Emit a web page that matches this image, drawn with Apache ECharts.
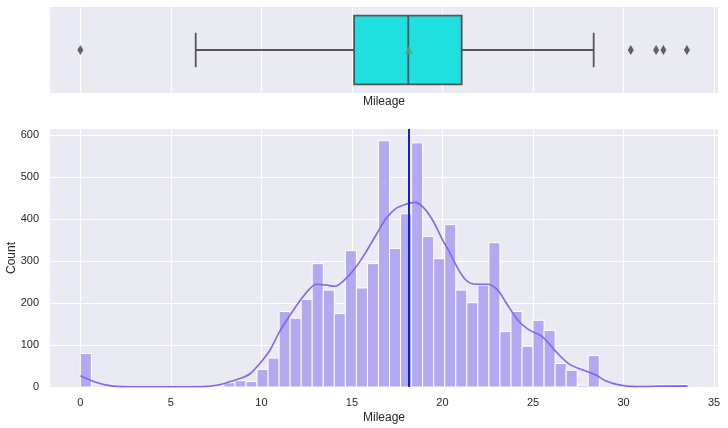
<!DOCTYPE html>
<html><head><meta charset="utf-8">
<script src="https://cdn.jsdelivr.net/npm/echarts@6/dist/echarts.min.js"></script>
<style>html,body{margin:0;padding:0;background:#fff}#c{width:728px;height:428px}</style>
</head><body><div id="c"></div>
<script>
// ---- data ----
const binStart = 0;
const binEnd = 33.54;
const binCounts = [80, 0, 0, 0, 0, 0, 0, 0, 0, 0, 0, 0, 0, 10, 15, 13, 42, 69, 180, 164,
  209, 294, 231, 175, 325, 236, 294, 587, 330, 413, 582, 359, 306, 387, 231, 201, 243, 344, 132, 180,
  97, 159, 135, 56, 40, 4, 75, 0, 0, 1, 0, 0, 5, 5, 6];
const kdeX = [0, 0.3, 0.73, 1.38, 2.2, 3.5, 5, 6.8, 7.5, 8.0, 8.8, 9.36, 9.91, 10.46, 11.0, 11.56, 12.1, 12.66, 13.03, 13.58,
  14.04, 14.68, 15.24, 15.79, 16.34, 16.89, 17.44, 17.99, 18.45, 18.9, 19.45, 20.0, 20.37, 20.74, 21.29, 21.84, 22.48, 23.03, 23.58, 24.23,
  24.78, 25.51, 26.25, 26.98, 27.72, 28.45, 29.0, 29.74, 30.65, 31.5, 32.5, 33.54];
const kdeY = [27, 21, 13, 5, 1, 0.5, 0.5, 1, 4, 9, 20, 31, 56, 87, 132, 170, 204, 234, 245, 243,
  240, 259, 287, 323, 363, 402, 426, 436, 440, 430, 398, 351, 323, 291, 255, 245, 245, 232, 196, 156,
  136, 120, 85, 55, 41, 29, 15, 5, 1, 1.5, 2, 2];
const boxStats = [6.37, 15.12, 18.11, 21.06, 28.35]; // low whisker, Q1, median, Q3, high whisker
const boxMean = 18.14;
const outliers = [0, 30.4, 31.8, 32.2, 33.5];
const centerLine = 18.11;
const xTickStep = 5;
const yTickStep = 100;
const xLabel = 'Mileage';
const yLabel = 'Count';

// ---- build ----
const nBins = binCounts.length;
const bw = (binEnd - binStart) / nBins;
const histData = binCounts.map((c, i) => [binStart + i * bw, binStart + (i + 1) * bw, c]);
const kdeData = kdeX.map((x, i) => [x, kdeY[i]]);
const xMin = -1.677, xMax = 35.217, yMax = 615;
const FONT = "'Liberation Sans', Arial, sans-serif";
const TXT = '#262626';
const BG = '#EAEAF2';
const fmtX = v => Math.abs(v / xTickStep - Math.round(v / xTickStep)) < 1e-6 ? String(Math.round(v)) : '';

const chart = echarts.init(document.getElementById('c'), null, {renderer: 'canvas'});
const splitLine = {show: true, showMinLine: false, showMaxLine: false, lineStyle: {color: '#ffffff', width: 1}};

chart.setOption({
  animation: false,
  backgroundColor: '#ffffff',
  textStyle: {fontFamily: FONT},
  grid: [
    {left: 50, right: 10, top: 7, height: 86, show: true, backgroundColor: BG, borderWidth: 0,
     containLabel: false, outerBoundsMode: 'none'},
    {left: 50, right: 10, top: 129, bottom: 41, show: true, backgroundColor: BG, borderWidth: 0,
     containLabel: false, outerBoundsMode: 'none'}
  ],
  xAxis: [
    {gridIndex: 0, type: 'value', min: xMin, max: xMax, minInterval: xTickStep, maxInterval: xTickStep,
     axisLine: {show: false}, axisTick: {show: false}, axisLabel: {show: false}, splitLine,
     name: xLabel, nameLocation: 'middle', nameGap: 3, nameMoveOverlap: false,
     nameTextStyle: {fontSize: 12, color: TXT, fontFamily: FONT}},
    {gridIndex: 1, type: 'value', min: xMin, max: xMax, minInterval: xTickStep, maxInterval: xTickStep,
     axisLine: {show: false}, axisTick: {show: false},
     axisLabel: {show: true, formatter: fmtX, fontSize: 11, color: TXT, margin: 10, fontFamily: FONT},
     splitLine,
     name: xLabel, nameLocation: 'middle', nameGap: 25, nameMoveOverlap: false,
     nameTextStyle: {fontSize: 12, color: TXT, fontFamily: FONT}}
  ],
  yAxis: [
    {gridIndex: 0, type: 'value', min: -0.5, max: 0.5, show: false},
    {gridIndex: 1, type: 'value', min: 0, max: yMax, interval: yTickStep,
     axisLine: {show: false}, axisTick: {show: false},
     axisLabel: {fontSize: 11, color: TXT, margin: 11, fontFamily: FONT},
     splitLine,
     name: yLabel, nameLocation: 'middle', nameGap: 32, nameMoveOverlap: false,
     nameTextStyle: {fontSize: 12, color: TXT, fontFamily: FONT}}
  ],
  series: [
    {
      type: 'custom', xAxisIndex: 0, yAxisIndex: 0, silent: true,
      data: [boxStats],
      renderItem: function (params, api) {
        const lo = api.value(0), q1 = api.value(1), med = api.value(2), q3 = api.value(3), hi = api.value(4);
        const stroke = {stroke: '#555555', lineWidth: 1.8};
        const P = (x, y) => api.coord([x, y]);
        const a = P(q1, 0.4), b = P(q3, -0.4);
        const children = [];
        const line = (x1, y1, x2, y2) => {
          const p1 = P(x1, y1), p2 = P(x2, y2);
          children.push({type: 'line', shape: {x1: p1[0], y1: p1[1], x2: p2[0], y2: p2[1]}, style: Object.assign({}, stroke)});
        };
        line(lo, 0, q1, 0);
        line(q3, 0, hi, 0);
        line(lo, -0.2, lo, 0.2);
        line(hi, -0.2, hi, 0.2);
        children.push({type: 'rect', shape: {x: a[0], y: a[1], width: b[0] - a[0], height: b[1] - a[1]},
          style: {fill: '#20DFDF', stroke: '#555555', lineWidth: 1.8}});
        line(med, -0.4, med, 0.4);
        return {type: 'group', children};
      }
    },
    {
      type: 'scatter', xAxisIndex: 0, yAxisIndex: 0, silent: true,
      data: outliers.map(v => [v, 0]),
      symbol: 'diamond', symbolSize: [6, 10],
      itemStyle: {color: '#3d3d3d'}
    },
    {
      type: 'scatter', xAxisIndex: 0, yAxisIndex: 0, silent: true,
      data: [[boxMean, 0]],
      symbol: 'triangle', symbolSize: 8,
      itemStyle: {color: '#55A868'}, z: 5
    },
    {
      type: 'custom', xAxisIndex: 1, yAxisIndex: 1, silent: true,
      data: histData,
      renderItem: function (params, api) {
        const c = api.value(2);
        if (!(c > 0)) return null;
        const p0 = api.coord([api.value(0), c]);
        const p1 = api.coord([api.value(1), 0]);
        return {type: 'rect', shape: {x: p0[0], y: p0[1], width: p1[0] - p0[0], height: p1[1] - p0[1]},
          style: {fill: '#B2A9F0', stroke: '#ffffff', lineWidth: 1}};
      }
    },
    {
      type: 'line', xAxisIndex: 1, yAxisIndex: 1, silent: true,
      data: kdeData, smooth: 0.3, showSymbol: false,
      lineStyle: {color: '#7B68EE', width: 1.6},
      markLine: {
        silent: true, symbol: 'none', label: {show: false},
        lineStyle: {color: '#1024D6', width: 2, type: 'solid'},
        data: [{xAxis: centerLine}]
      }
    }
  ]
});
</script>
</body></html>
